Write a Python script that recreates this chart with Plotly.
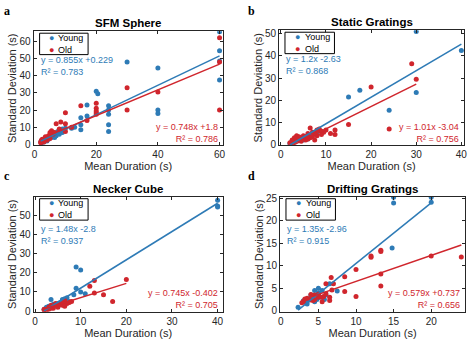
import plotly.graph_objects as go

W, H = 474, 340
BLUE = "#2e7bb6"
RED = "#d0262d"
FONT = "Liberation Sans"

# ---------------- data ----------------
titles = ["SFM Sphere", "Static Gratings", "Necker Cube", "Drifting Gratings"]
panel_letters = ["a", "b", "c", "d"]
group_labels = ["Young", "Old"]

a_young_x = [60, 60, 60, 60, 40, 40, 40, 30, 24, 24, 24, 24, 24, 20, 20.5, 17, 17, 15, 15, 15, 13, 12, 10, 9, 8, 7.5, 7, 6, 5.5, 5, 4.5, 4, 3.5, 3, 2.5, 2, 2.2, 3, 4, 6.5, 9]
a_young_y = [65.5, 54.5, 48.5, 37.5, 44.5, 20, 18, 48, 22.5, 20, 17.5, 11.5, 7.5, 31, 29.5, 23, 16.5, 15.5, 11.5, 8.5, 10, 9.5, 9.5, 7, 6, 7.5, 5, 5.5, 4, 4.5, 3, 3.5, 2.5, 2.5, 2, 1.5, 1, 1.5, 2, 4, 9]
a_old_x = [60, 60, 60, 40, 30, 30, 20, 20, 20, 20, 20, 17, 15, 10, 10, 10, 8.5, 7, 6.5, 6, 5.5, 5, 4.5, 4, 4, 3.5, 3, 3, 2.5, 2.5, 2, 2, 2.2, 3.5, 5, 8, 12]
a_old_y = [62, 48, 20, 30.5, 33, 20, 24, 21, 19.5, 18.5, 17.5, 14, 22.5, 18.5, 12, 7.5, 13, 12, 7, 6, 8, 7, 5, 4, 2.5, 3, 2.5, 1.5, 2, 3, 1.5, 1, 2.5, 4.5, 3.5, 9, 10]

b_young_x = [30, 40, 30, 24, 15, 17.5, 8.5, 8, 7.5, 7, 6.5, 6, 5.5, 5, 4.5, 4, 3.5, 3, 2.5, 2.2, 2, 3, 4, 5, 6]
b_young_y = [51, 42.5, 23.5, 15.5, 21.5, 24.5, 6.5, 5.5, 5, 4.5, 4, 3.5, 3.5, 3, 2.5, 2.5, 2, 1.5, 1, 0.8, 0.5, 2.5, 3, 2, 2.5]
b_old_x = [29, 30, 20, 15, 24, 12, 12, 11, 10, 9.5, 9, 8.5, 8, 8, 7.5, 7, 7, 6.5, 6.5, 6, 6, 5.5, 5, 5, 4.5, 4, 4, 3.5, 3.5, 3, 3, 2.5, 2.5, 2, 7.5, 9, 6, 4.5, 5.5]
b_old_y = [36.5, 29.5, 26, 9, 7, 6.5, 4.5, 5, 6.5, 5.5, 6, 7, 6.5, 4, 5, 3.5, 5.5, 7.5, 3, 5, 2.5, 3.5, 3, 4, 2.5, 3.5, 2, 4, 2.5, 1.5, 3, 1, 2, 0.8, 2, 4.5, 4, 1.5, 2]

c_young_x = [40, 40, 40, 9, 10, 9, 10, 11, 8.5, 7, 6.5, 6, 6, 5.5, 5, 4.5, 4, 3.5, 3, 2.5, 2, 5, 6, 7.5]
c_young_y = [58, 55, 54.5, 23, 21.5, 12, 10, 9, 8.5, 7, 6.5, 6, 5, 4.5, 4, 3, 3.5, 6, 2.5, 2, 1, 2.5, 3.5, 5]
c_old_x = [20, 13, 12, 13, 15, 17, 8, 7.5, 7, 6.5, 6, 6, 5.5, 5, 4.5, 4, 4, 3.5, 3.5, 3, 3, 2.5, 2, 2, 5, 6.5]
c_old_y = [16.5, 16, 13, 9.5, 8.5, 5, 5, 4.5, 4, 5.5, 4, 3, 3.5, 3, 4, 2.5, 1.5, 1.5, 3, 2, 1, 0.5, 1, 0.5, 2, 2.5]

d_young_x = [15, 15, 20, 20, 14.8, 7.5, 6.5, 5, 5.5, 4.5, 4, 3.5, 2.3, 5.8, 4.5, 3.5, 5, 4, 3, 6, 5.2, 4.8]
d_young_y = [25.3, 24, 25.3, 24.2, 14, 4.4, 6, 5, 4.5, 4.5, 3.5, 2, 0.8, 2.5, 2, 1.5, 4, 3, 2.2, 3.5, 3, 2.5]
d_old_x = [24, 20, 13.3, 13.3, 12, 12, 13.3, 13.3, 10, 10, 8.5, 8.5, 7, 6.7, 6.8, 6.5, 6.5, 6, 5.7, 5.5, 5, 5, 4.5, 4.3, 4, 4, 3.5, 3.2, 3, 2.8, 4.5, 5.5, 6]
d_old_y = [12, 12.2, 13.5, 13.2, 12.2, 11.9, 8.2, 5.5, 9.2, 3.2, 7.6, 4.3, 6, 7.4, 4.6, 2.3, 3, 6, 3.2, 3, 3, 3.7, 3.5, 2.3, 3.6, 2.4, 2.8, 2.6, 2, 1.8, 2.5, 2, 3.8]

# fit coefficients (slope, intercept, R^2) as printed
young_fit = [(0.855, 0.229, 0.783), (1.2, -2.63, 0.868), (1.48, -2.8, 0.937), (1.35, -2.96, 0.915)]
old_fit = [(0.748, 1.8, 0.786), (1.01, -3.04, 0.756), (0.745, -0.402, 0.705), (0.579, 0.737, 0.656)]

x_ticks = [[0, 20, 40, 60], [0, 10, 20, 30, 40], [0, 10, 20, 30, 40], [0, 5, 10, 15, 20]]
y_ticks = [[0, 10, 20, 30, 40, 50, 60], [0, 10, 20, 30, 40, 50], [0, 10, 20, 30, 40, 50], [0, 5, 10, 15, 20, 25]]
x_ranges = [[-0.3, 61], [-0.4, 40.6], [-0.3, 41.1], [-0.1, 24.5]]
y_ranges = [[-0.4, 65.8], [-0.3, 51.6], [-0.3, 59.8], [-0.2, 25.4]]

young = [(a_young_x, a_young_y), (b_young_x, b_young_y), (c_young_x, c_young_y), (d_young_x, d_young_y)]
old = [(a_old_x, a_old_y), (b_old_x, b_old_y), (c_old_x, c_old_y), (d_old_x, d_old_y)]

# ---------------- layout geometry (pixels) ----------------
# plot boxes: left, right, top, bottom
boxes = [(32, 223, 28, 145), (280, 467, 27, 145), (32, 223, 198, 316), (281, 468, 198, 316)]


def px(x):
    return x / W


def py(y):
    return 1 - y / H


def note(x, y, text, size, color, xanchor="center", yanchor="middle", family=FONT,
         weight="normal", align="left"):
    return dict(x=px(x), y=py(y), xref="paper", yref="paper", text=text, showarrow=False,
                xanchor=xanchor, yanchor=yanchor, align=align, borderpad=0,
                font=dict(family=family, size=size, color=color, weight=weight))


def eq_text(fit):
    m, b, r2 = fit
    return "y = %gx %s%g<br>R² = %g" % (m, "+" if b >= 0 else "-", abs(b), r2)


fig = go.Figure()
annotations = []
shapes = []

for i in range(4):
    n = "" if i == 0 else str(i + 1)
    xa, ya = "x" + n, "y" + n
    for (xs, ys), col in ((young[i], BLUE), (old[i], RED)):
        fig.add_trace(go.Scatter(x=xs, y=ys, mode="markers", xaxis=xa, yaxis=ya,
                                 marker=dict(color=col, size=5), showlegend=False))
    for (xs, ys), col, fit in ((young[i], BLUE, young_fit[i]), (old[i], RED, old_fit[i])):
        x0, x1 = min(xs), max(xs)
        m, b, _ = fit
        fig.add_trace(go.Scatter(x=[x0, x1], y=[m * x0 + b, m * x1 + b], mode="lines",
                                 xaxis=xa, yaxis=ya, line=dict(color=col, width=1.5),
                                 showlegend=False))
    L, R, T, B = boxes[i]
    axcommon = dict(showline=True, linecolor="#262626", linewidth=1, mirror="ticks",
                    ticks="inside", ticklen=3, tickcolor="#262626", showgrid=False,
                    zeroline=False, tickfont=dict(family=FONT, size=10, color="#262626"))
    fig.layout["xaxis" + n] = dict(domain=[px(L), px(R)], anchor=ya, range=x_ranges[i],
                                   tickvals=x_ticks[i], ticktext=[str(v) for v in x_ticks[i]],
                                   title=dict(text="Mean Duration (s)", standoff=2,
                                              font=dict(family=FONT, size=11, color="#262626")),
                                   **axcommon)
    fig.layout["yaxis" + n] = dict(domain=[py(B), py(T)], anchor=xa, range=y_ranges[i],
                                   tickvals=y_ticks[i], ticktext=[str(v) for v in y_ticks[i]],
                                   title=dict(text="Standard Deviation (s)", standoff=0,
                                              font=dict(family=FONT, size=11, color="#262626")),
                                   **axcommon)
    # title
    annotations.append(note((L + R) / 2, T - 8, titles[i], 11.5, "black", weight="bold"))
    # panel letter
    lx = 1 if i % 2 == 0 else 248
    ly = 7 if i < 2 else 177
    annotations.append(note(lx, ly, panel_letters[i], 12, "black", xanchor="left",
                            family="Liberation Serif", weight="bold"))
    # legend box
    lg_left = L + 6
    lg_w = 49 if i % 2 == 0 else 50
    shapes.append(dict(type="rect", xref="paper", yref="paper", x0=px(lg_left), x1=px(lg_left + lg_w),
                       y0=py(T + 2), y1=py(T + 24), line=dict(color="black", width=1),
                       fillcolor="white", layer="above"))
    dot_x = lg_left + (12 if i % 2 == 0 else 13)
    dots = "<span style='color:%s'>●</span><br><span style='color:%s'>●</span>" % (BLUE, RED)
    annotations.append(note(dot_x, T + 13, dots, 9, BLUE, align="center"))
    annotations.append(note(dot_x + 6, T + 13, "<br>".join(group_labels), 9, "black",
                            xanchor="left"))
    # equations
    eq_x = L + 6
    eq_y = T + 36 if i < 2 else T + 39
    annotations.append(note(eq_x, eq_y, eq_text(young_fit[i]), 9, BLUE, xanchor="left"))
    annotations.append(note(R - 4, B - 13, eq_text(old_fit[i]), 9, RED, xanchor="right",
                            align="right"))

fig.update_layout(width=W, height=H, margin=dict(l=0, r=0, t=0, b=0),
                  paper_bgcolor="white", plot_bgcolor="white",
                  annotations=annotations, shapes=shapes, showlegend=False,
                  font=dict(family=FONT))
fig.write_html("out.html")
